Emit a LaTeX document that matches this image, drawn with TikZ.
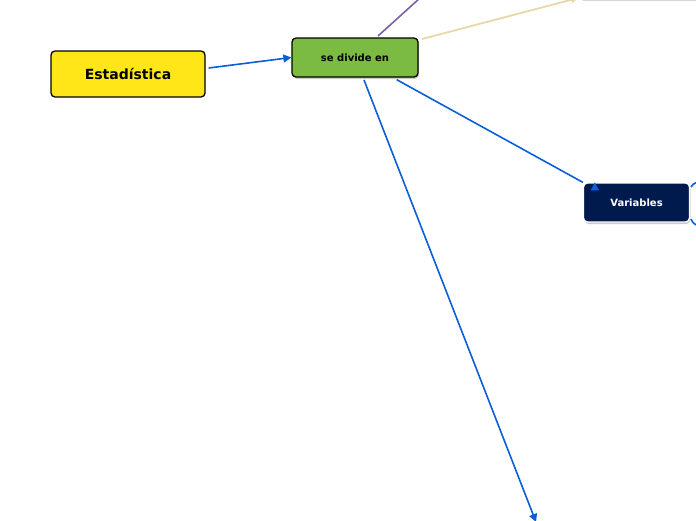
\documentclass[tikz,border=0pt]{standalone}
\usepackage{fontspec}
\setmainfont{DejaVu Sans}
\usetikzlibrary{arrows.meta,shadows}
\definecolor{blu}{HTML}{0A5FD8}
\definecolor{yel}{HTML}{FFE619}
\definecolor{grn}{HTML}{7CBB42}
\definecolor{nav}{HTML}{001A4D}
\definecolor{tan}{HTML}{E8D8A8}
\definecolor{pur}{HTML}{7A5FAA}
\tikzset{box/.style={rounded corners=4pt,line width=1.3pt,inner sep=0pt,font=\bfseries},
 conn/.style={blu,line width=1.6pt,-{Triangle[length=8pt,width=8pt]}}}
\begin{document}
\begin{tikzpicture}[x=1pt,y=-1pt]
\useasboundingbox (0,0) rectangle (696,520);
\node[box,fill=yel,draw=black,minimum width=154pt,minimum height=46pt,font=\bfseries\fontsize{14}{16}\selectfont] (est) at (128,74) {Estadística};
\node[box,fill=grn,draw=black,minimum width=126pt,minimum height=39pt,font=\bfseries\fontsize{10}{12}\selectfont,drop shadow={shadow xshift=1pt,shadow yshift=-2pt,opacity=0.4}] (div) at (355,57.5) {se divide en};
\node[box,fill=nav,draw=white,text=white,minimum width=106pt,minimum height=39pt,font=\bfseries\fontsize{10}{12}\selectfont,drop shadow={shadow xshift=1pt,shadow yshift=-2pt,opacity=0.4}] (var) at (636.5,202.5) {Variables};
\node[box,fill=white,draw=white,minimum width=120pt,minimum height=30pt,drop shadow={shadow xshift=0pt,shadow yshift=-2pt,opacity=0.3}] (top) at (640,-16) {};
\coordinate (pe) at (420,-2);
\coordinate (bot) at (536,522);
\draw[conn] (est.east)++(3,-6) -- (div.west);
\draw[conn] (div.south east)++(-22,2) -- (var.north west)++(12,0);
\draw[conn] (364,80) -- (bot);
\draw[pur,line width=1.6pt] (378,36) -- (pe);
\draw[tan,line width=1.8pt,-{Triangle[length=7pt,width=7pt]}] (422,39) -- (578,-2);
\draw[blu,line width=1.6pt] (691,187) .. controls (693,184) .. (698,182);
\draw[blu,line width=1.6pt] (691,219) .. controls (693,223) .. (698,226);
\end{tikzpicture}
\end{document}
